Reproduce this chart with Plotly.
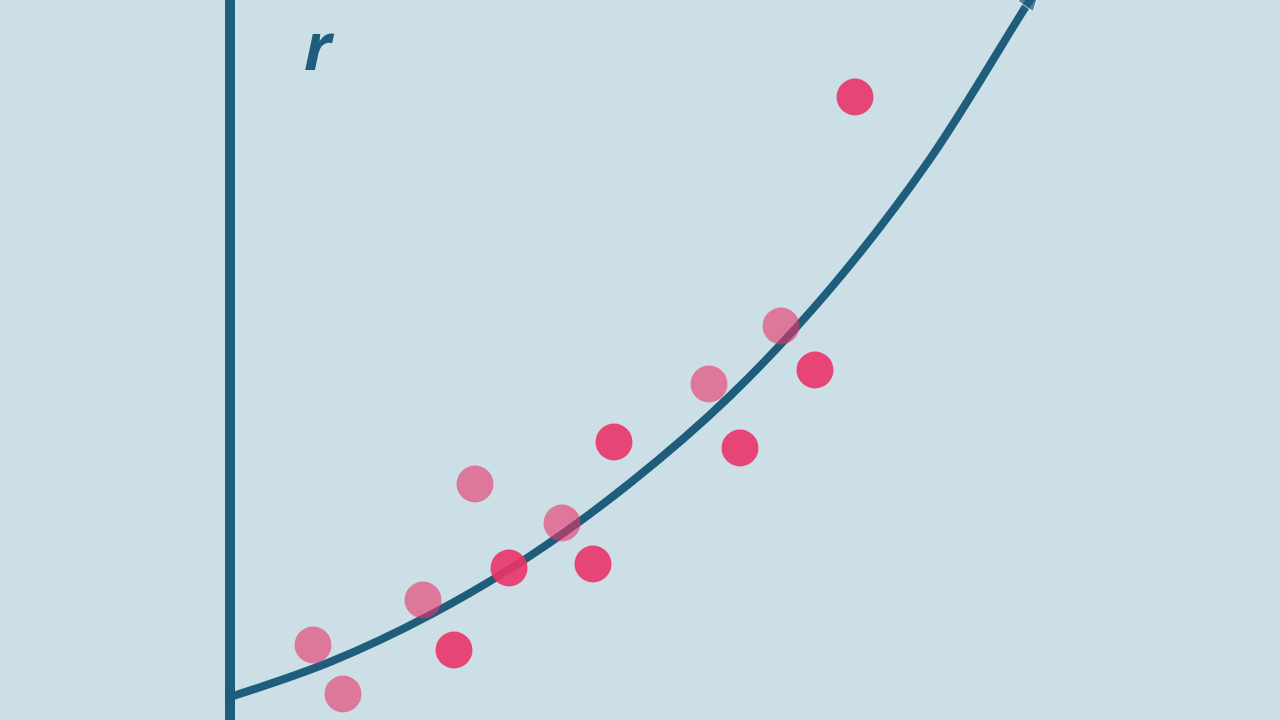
import plotly.graph_objects as go

# Data (x: horizontal units, r: vertical units)
curve_x = [0.0, 1.0, 2.0, 3.0, 4.0, 5.0, 6.0, 7.0, 8.0, 8.12]
curve_r = [0.03, 0.38, 0.85, 1.44, 2.17, 3.04, 4.11, 5.41, 7.0, 7.17]

light_x = [0.83, 1.13, 1.93, 2.45, 3.32, 4.79, 5.51]
light_r = [0.55, 0.06, 1.00, 2.16, 1.77, 3.16, 3.74]

strong_x = [2.24, 2.79, 3.63, 3.84, 5.10, 5.85, 6.25]
strong_r = [0.50, 1.32, 1.36, 2.58, 2.52, 3.30, 6.03]

axis_label = "r"

BG = "rgb(205,223,230)"
LINE = "#1e5d7c"
PINK = "rgb(234,52,104)"

fig = go.Figure()

fig.add_trace(go.Scatter(
    x=curve_x, y=curve_r, mode="lines+markers",
    line=dict(color=LINE, width=8, shape="spline"),
    marker=dict(symbol="arrow", size=[0]*(len(curve_x)-1) + [30], angleref="previous", color=LINE),
    hoverinfo="skip", showlegend=False,
))

fig.add_trace(go.Scatter(
    x=light_x, y=light_r, mode="markers",
    marker=dict(size=37, color=PINK, opacity=0.6, line=dict(width=0)),
    showlegend=False,
))
fig.add_trace(go.Scatter(
    x=strong_x, y=strong_r, mode="markers",
    marker=dict(size=37, color=PINK, opacity=0.9, line=dict(width=0)),
    showlegend=False,
))

fig.add_annotation(
    x=0.89, y=6.09, xref="x", yref="y", yanchor="bottom",
    text="<b><i>" + axis_label + "</i></b>",
    showarrow=False, font=dict(family="Open Sans", size=66, color=LINE),
)

fig.update_layout(
    width=1280, height=720,
    margin=dict(l=0, r=0, t=0, b=0),
    paper_bgcolor=BG, plot_bgcolor=BG,
    xaxis=dict(range=[-2.3, 10.5], showgrid=False, zeroline=False,
               showticklabels=False, ticks=""),
    yaxis=dict(range=[-0.2, 7.0], showgrid=False, zeroline=False,
               showticklabels=False, ticks=""),
)
fig.add_shape(type="line", x0=0, x1=0, y0=-0.2, y1=7.0, xref="x", yref="y",
              line=dict(color=LINE, width=10), layer="below")

fig.write_html("out.html", config={"displayModeBar": False},
               post_script="document.body.style.margin='0';document.body.style.background='" + BG + "';")
